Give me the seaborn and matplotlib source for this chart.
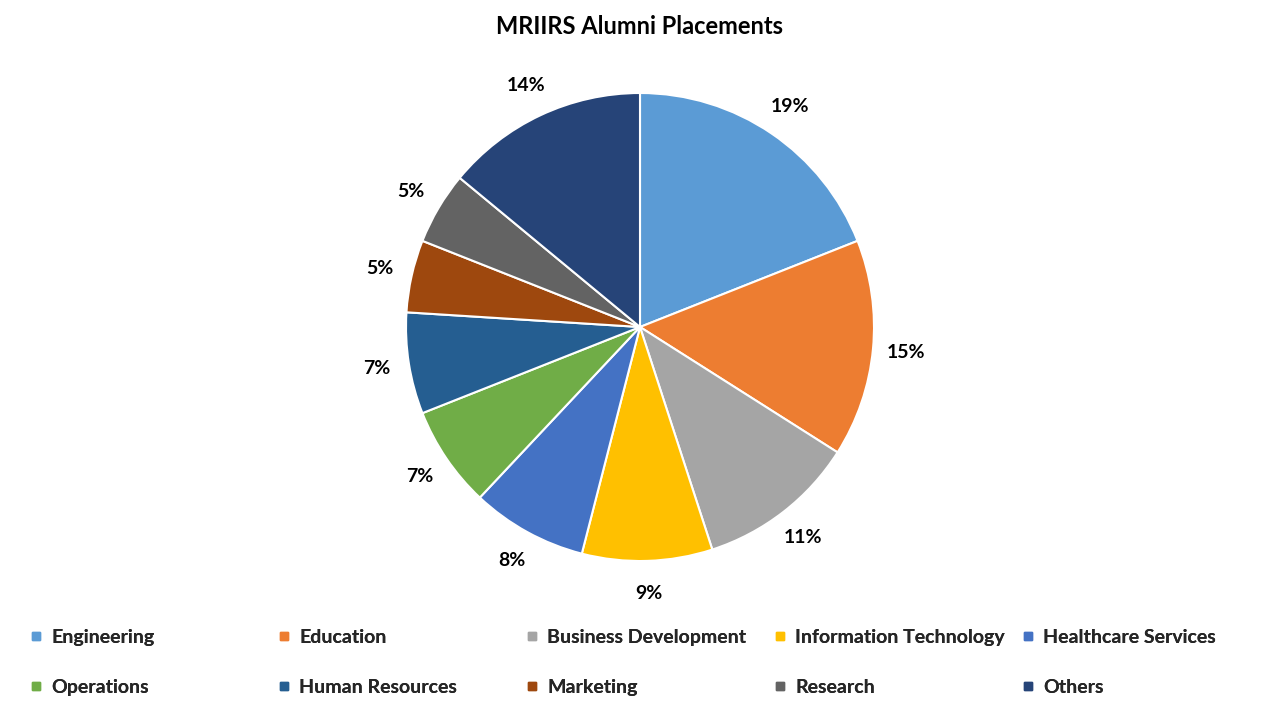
import matplotlib
matplotlib.use('Agg')
import matplotlib.pyplot as plt
from matplotlib.lines import Line2D
import seaborn as sns

sns.set_theme(style='white')
plt.rcParams['font.family'] = ['Lato', 'DejaVu Sans']

categories = ['Engineering', 'Education', 'Business Development', 'Information Technology',
              'Healthcare Services', 'Operations', 'Human Resources', 'Marketing',
              'Research', 'Others']
shares = [19, 15, 11, 9, 8, 7, 7, 5, 5, 14]
colors = sns.color_palette(['#5B9BD5', '#ED7D31', '#A5A5A5', '#FFC000', '#4472C4',
                            '#70AD47', '#255E91', '#9E480E', '#636363', '#264478'])

fig = plt.figure(figsize=(12.8, 7.2), dpi=100)
fig.patch.set_facecolor('white')

# pie axes: 600x600 px box centred on (640, 327)
ax = fig.add_axes([340 / 1280, 93 / 720, 600 / 1280, 600 / 720])
wedges, texts, autotexts = ax.pie(
    shares, colors=colors, radius=234, startangle=90, counterclock=False,
    autopct='%.0f%%', pctdistance=1.14,
    wedgeprops=dict(edgecolor='white', linewidth=1.5),
    textprops=dict(fontsize=14, fontweight='bold', color='black'))
ax.set_xlim(-300, 300)
ax.set_ylim(-300, 300)
ax.set_aspect('equal')
ax.axis('off')

fig.text(0.5, 1 - 27 / 720, 'MRIIRS Alumni Placements', ha='center', va='center',
         fontsize=17, fontweight='bold', color='black')

# legend: 5 columns x 2 rows
col_x = [22, 270, 518, 766, 1014]
for c in range(5):
    idx = [c, c + 5]
    handles = [Line2D([], [], marker='s', linestyle='', markersize=6,
                      markerfacecolor=colors[i], markeredgecolor=colors[i]) for i in idx]
    leg = fig.legend(handles, [categories[i] for i in idx], loc='upper left',
                     bbox_to_anchor=(col_x[c] / 1280, 1 - 621 / 720), borderaxespad=0,
                     frameon=False, handlelength=0.6, handletextpad=0.5,
                     labelspacing=1.72, prop=dict(size=14, weight='bold'))
    fig.add_artist(leg)

plt.savefig('out.png', dpi=100, facecolor='white')
plt.close()
